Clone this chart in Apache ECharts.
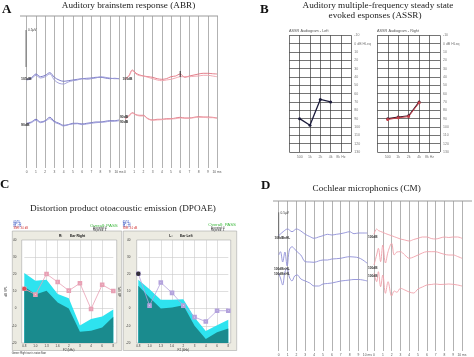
<!DOCTYPE html>
<html><head><meta charset="utf-8">
<script src="https://cdn.jsdelivr.net/npm/echarts@6/dist/echarts.min.js"></script>
<style>html,body{margin:0;padding:0;background:#fff}#c{width:474px;height:357px}</style>
</head><body><div id="c"></div>
<script>
// ---------- DATA ----------
// Panel A: ABR (time ms, amplitude in display units)
const abrTimeL = [0,0.5,1,1.5,2,2.5,3,3.5,4,4.5,5,5.5,6,6.5,7,7.5,8,8.5,9,9.5,10];
const abrL1 = [88.7,90,94,91.3,92.7,95.3,90.7,88,86.7,87.3,88,88.7,89.3,89.7,90,90.7,90.7,90,89.3,89.7,89.3];
const abrL2 = [88,89.3,92.7,90,91.3,94,88,84.7,84,86,87.3,88,89.3,88.7,89.3,90,91.3,90.7,90,89.3,89.3];
const abrL3 = [44.7,46,48.7,46,47.3,50.7,46.7,44.7,42.7,43.3,44.7,44.7,44,44.7,45.3,46,46,46.7,47.3,47.3,48];
const abrL4 = [44,45.3,47.7,45.3,46.7,49.3,45.7,44,42,43.3,44,44.3,43.3,44,44.7,45.3,45.7,46,46.7,46.7,47.3];
const abrTimeR = [0,0.4,0.8,1.2,1.6,2,2.5,3,3.5,4,4.5,5,5.5,6,6.5,7,7.5,8,8.5,9,9.5,10];
const abrR1 = [88.7,92,98,94.7,93,92,91.3,90.7,89.3,88.7,89.3,91.3,92,94,90.7,92,93,94,94.7,94.7,94.3,94];
const abrR2 = [88.7,91.3,97.3,94,92.3,92,90.7,89.3,88,87.3,88,88.7,90,91.3,91.3,91.3,91.7,92,92.7,92.7,92,91.3];
const abrR3 = [49.3,52,55.3,53.3,52.7,52.7,49.3,48,48.7,48.7,49.3,49.3,50,50.7,50,50,50.7,51.3,51,51,50.7,50];
const abrR4 = [48.7,51.3,54.7,53,52,52,49,47.7,48,48.3,48.7,49,49.3,50,49.7,49.7,50.3,50.7,50.7,50.3,50.3,49.7];

// Panel B: ASSR thresholds (dB)
const assrFreqLabels = ['', '500', '1k', '2k', '4k', '8k Hz', ''];
const assrLeft = [90, 98, 67, 70];
const assrRightDark = [90, 88, 86.5, 70];
const assrRightRed = [91, 89, 87.5, 71];

// Panel C: DPOAE (dB SPL)
const dpFreqLabels = ['0.8','1.0','1.3','1.6','2','3','4','6','8'];
const dpRightNoise2 = [20.8,16.2,16.8,8.6,6.1,-9.8,-6,-4.5,-0.5];
const dpRightNoise1 = [12.9,8.3,10.4,3.6,0.1,-13.4,-12.8,-10.9,-4.7];
const dpRightDP = [11.6,8.2,20.2,15.5,10.5,14.8,-0.2,13.9,10.3];
const dpLeftNoise2 = [16.8,11.3,5.2,5.2,5.5,-5.1,-13,-9.6,-6.4];
const dpLeftNoise1 = [13.3,6.5,0.1,0.7,2.0,-9.9,-17.7,-13.8,-11.5];
const dpLeftDP = [20.3,1.8,15.2,9.2,1.8,-4.9,-7.5,-1.2,-1.2];

// Panel D: CM (time ms, amplitude display units)
const cmTimeTop = [0,0.5,1,1.5,2,2.5,3,3.5,4,4.5,5,5.5,6,6.5,7,7.5,8,8.5,9,9.5,10];
const cmLeftTop = [115.3,119.3,122,119.3,122,120,116.7,114.5,112.7,114,115.3,116.7,116,116.7,117.3,118.3,119.3,117.3,118,118,118];
const cmTimeL = [0,0.2,0.45,0.7,0.95,1.2,1.5,1.8,2.1,2.5,3,3.5,4,4.5,5,5.5,6,6.5,7,7.5,8,8.5,9,9.5,10];
const cmLeftMid = [96,99.3,89,99,85,101,104.3,102,99,96,89.3,89,88.7,90,91,91,92,92.3,92.7,93.7,94.3,94,93.3,91,87.7];
const cmLeftLow = [77.7,73,66,79,83,74,70,75,76,72,70,68,65,65,67,67.5,68,69,70,70.5,71,71.5,71.5,71,70];
const cmTimeR = [0,0.3,0.5,0.75,1,1.3,1.6,2,2.3,2.6,3,3.5,4,4.5,5,5.5,6,6.5,7,7.5,8,8.5,9,9.5,10];
const cmRightTop = [116.7,122,120.5,119.5,118.7,117.5,116.5,115.3,114.3,113.3,112,111,110,111.5,112.7,114,114,112.5,112,113,114,113.5,114,114,112.7];
const cmRightMid = [86,96,102.7,89.3,106,88,99.3,107.7,96,99,99.3,96,92.7,94,96,98,99.3,99.3,99.3,98,96.7,96,96,94.5,92.7];
const cmRightLow = [77.7,69.3,79.3,64.3,76,57.7,69.3,55,60,58.7,62.7,61,59,58,62,64,66,66.5,67,66.5,66.7,67,66.7,66,65];

// ---------- BUILD ----------
const pair = (xs, ys) => ys.map((v, i) => [xs[i], v]);
const idx = (ys, off) => ys.map((v, i) => [i + (off || 0), v]);
const SERIF = 'Liberation Serif', SANS = 'Liberation Sans';

const grids = [
  {left:26.7, top:16, width:92.3, height:152},
  {left:125, top:16, width:92, height:152},
  {left:289.3, top:35.3, width:62, height:116.7},
  {left:377.3, top:35.3, width:62.7, height:116.7},
  {left:24.3, top:240, width:89, height:103},
  {left:138.3, top:240, width:90, height:103},
  {left:278.7, top:201, width:88.6, height:150},
  {left:374, top:201, width:88, height:150}
].map(g => Object.assign({outerBoundsMode:'none', containLabel:false}, g));

function waveX(gi){
  return {gridIndex:gi, type:'value', min:0, max:10, interval:1,
    axisLine:{show:false}, axisTick:{show:false},
    splitLine:{show:true, showMinLine:true, showMaxLine:true, lineStyle:{color:'#b2b2b2', width:1}},
    axisLabel:{fontSize:3.3, color:'#555', margin:2.5, fontFamily:SANS, showMinLabel:true, showMaxLabel:true,
      formatter: v => v === 10 ? '10 ms' : String(v)}};
}
function waveY(gi, max){ return {gridIndex:gi, type:'value', min:0, max:max, show:false, splitLine:{show:false}}; }
function assrX(gi){
  return {gridIndex:gi, type:'value', min:0, max:6, interval:1,
    axisLine:{show:false}, axisTick:{show:false},
    splitLine:{show:true, showMinLine:true, showMaxLine:true, lineStyle:{color:'#3a3a3a', width:0.7}},
    axisLabel:{fontSize:3.6, color:'#777', margin:3, fontFamily:SANS, formatter: v => assrFreqLabels[v] || ''}};
}
function assrY(gi){
  return {gridIndex:gi, type:'value', inverse:true, min:-10, max:130, interval:10, position:'right',
    axisLine:{show:false}, axisTick:{show:false},
    splitLine:{show:true, showMinLine:true, showMaxLine:true, lineStyle:{color:'#3a3a3a', width:0.7}},
    axisLabel:{fontSize:3.5, color:'#777', margin:3, fontFamily:SANS, formatter: v => v === 0 ? '0 dB HLeq' : String(v)}};
}
function dpX(gi){
  return {gridIndex:gi, type:'value', min:0, max:8, interval:1,
    axisLine:{show:false}, axisTick:{show:false},
    splitLine:{show:true, showMinLine:false, showMaxLine:false, lineStyle:{color:'#c9c9c9', width:0.6}},
    name:'F2 (kHz)', nameLocation:'middle', nameGap:6, nameTextStyle:{fontSize:3, color:'#333', fontFamily:SANS},
    axisLabel:{fontSize:3, color:'#333', margin:2, fontFamily:SANS, formatter: v => dpFreqLabels[v] || ''}};
}
function dpY(gi){
  return {gridIndex:gi, type:'value', min:-20, max:40, interval:10,
    axisLine:{show:false}, axisTick:{show:false},
    splitLine:{show:true, showMinLine:false, showMaxLine:false, lineStyle:{color:'#c9c9c9', width:0.6}},
    name:'dB SPL', nameLocation:'middle', nameRotate:90, nameGap:6, nameTextStyle:{fontSize:3, color:'#333', fontFamily:SANS},
    axisLabel:{fontSize:3, color:'#333', margin:8, fontFamily:SANS}};
}

const xAxis = [waveX(0), waveX(1), assrX(2), assrX(3), dpX(4), dpX(5), waveX(6), waveX(7)];
const yAxis = [waveY(0,152), waveY(1,152), assrY(2), assrY(3), dpY(4), dpY(5), waveY(6,150), waveY(7,150)];

function trace(gi, data, color, w){
  return {type:'line', xAxisIndex:gi, yAxisIndex:gi, data:data, showSymbol:false, symbol:'none',
    smooth:0.35, lineStyle:{color:color, width:w || 0.9}, z:3, silent:true, animation:false};
}
function area(gi, vals, color, z){
  return {type:'line', xAxisIndex:gi, yAxisIndex:gi, data:idx(vals), symbol:'none',
    lineStyle:{width:0}, areaStyle:{color:color, opacity:1, origin:'start'}, z:z, animation:false};
}
function dpLine(gi, vals, color){
  return {type:'line', xAxisIndex:gi, yAxisIndex:gi, data:idx(vals), symbol:'emptyRect', symbolSize:2.6,
    lineStyle:{color:color, width:0.8}, itemStyle:{color:color, borderWidth:0.5}, z:5, animation:false};
}
function assrLine(gi, vals, color, w){
  return {type:'line', xAxisIndex:gi, yAxisIndex:gi, data:idx(vals, 1), symbol:'circle', symbolSize:3,
    lineStyle:{color:color, width:w}, itemStyle:{color:color}, z:5, animation:false};
}

const series = [
  trace(0, pair(abrTimeL, abrL1), '#7272c4'),
  trace(0, pair(abrTimeL, abrL2), '#9898d6'),
  trace(0, pair(abrTimeL, abrL3), '#6a6ac0'),
  trace(0, pair(abrTimeL, abrL4), '#9a9ad8'),
  trace(1, pair(abrTimeR, abrR1), '#e0707e'),
  trace(1, pair(abrTimeR, abrR2), '#f0a2ab'),
  trace(1, pair(abrTimeR, abrR3), '#dc6c7a'),
  trace(1, pair(abrTimeR, abrR4), '#f2a8b0'),
  {type:'scatter', xAxisIndex:1, yAxisIndex:1, data:[[6, abrR1[13]]], symbol:'rect', symbolSize:[1,6], itemStyle:{color:'#111'}, z:6, animation:false},
  assrLine(2, assrLeft, '#1c1c3c', 1.3),
  assrLine(3, assrRightDark, '#3a1a2a', 1.2),
  assrLine(3, assrRightRed, '#c8404a', 1),
  area(4, dpRightNoise2, '#2ee3ef', 2),
  area(4, dpRightNoise1, '#1a8b8e', 3),
  dpLine(4, dpRightDP, '#e8a0b4'),
  {type:'scatter', xAxisIndex:4, yAxisIndex:4, data:[[0, dpRightDP[0]]], symbolSize:4, itemStyle:{color:'#d8383a'}, z:6, animation:false},
  area(5, dpLeftNoise2, '#2ee3ef', 2),
  area(5, dpLeftNoise1, '#1a8b8e', 3),
  dpLine(5, dpLeftDP, '#b3a2dc'),
  {type:'scatter', xAxisIndex:5, yAxisIndex:5, data:[[0, dpLeftDP[0]]], symbolSize:4.5, itemStyle:{color:'#111'}, z:6, animation:false},
  trace(6, pair(cmTimeTop, cmLeftTop), '#9090d8'),
  trace(6, pair(cmTimeL, cmLeftMid), '#9090d8'),
  trace(6, pair(cmTimeL, cmLeftLow), '#9090d8'),
  trace(7, pair(cmTimeR, cmRightTop), '#f0a0aa'),
  trace(7, pair(cmTimeR, cmRightMid), '#f0a0aa'),
  trace(7, pair(cmTimeR, cmRightLow), '#f0a0aa')
];

function txt(x, y, s, o){
  o = o || {};
  return {type:'text', x:x, y:y, z:o.z || 10, silent:true, style:{text:s, fill:o.color || '#111',
    font:(o.weight || 'normal') + ' ' + (o.size || 4) + 'px "' + (o.family || SANS) + '"',
    textAlign:o.align || 'left', textVerticalAlign:'middle'}};
}
function ln(x1, y1, x2, y2, c, w){
  return {type:'line', z:1, silent:true, shape:{x1:x1, y1:y1, x2:x2, y2:y2}, style:{stroke:c, lineWidth:w}};
}
function rect(x, y, w, h, fill, stroke, lw, z){
  return {type:'rect', z:z, silent:true, shape:{x:x, y:y, width:w, height:h}, style:{fill:fill, stroke:stroke, lineWidth:lw}};
}
const T = {family:SERIF, size:9.2, align:'center', color:'#222'};
const graphic = [
  txt(2, 10, 'A', {family:SERIF, size:13, weight:'bold'}),
  txt(260, 10, 'B', {family:SERIF, size:13, weight:'bold'}),
  txt(0, 185, 'C', {family:SERIF, size:13, weight:'bold'}),
  txt(261, 186, 'D', {family:SERIF, size:13, weight:'bold'}),
  txt(128.5, 6, 'Auditory brainstem response (ABR)', T),
  txt(378, 6, 'Auditory multiple-frequency steady state', T),
  txt(375, 15.7, 'evoked esponses (ASSR)', T),
  txt(123, 208.3, 'Distortion product otoacoustic emission (DPOAE)', T),
  txt(366.7, 189, 'Cochlear microphonics (CM)', T),
  ln(20, 16, 218, 16, '#9a9a9a', 1),
  ln(26, 30, 26, 67, '#555', 0.8),
  txt(28, 30, '0.5µV', {size:3.2, color:'#333'}),
  txt(21, 79.3, '105dB', {size:3.5, weight:'bold', color:'#333'}),
  txt(21, 125, '90dB', {size:3.5, weight:'bold', color:'#333'}),
  txt(122.5, 79, '105dB', {size:3.3, weight:'bold', color:'#333'}),
  txt(120, 117.3, '90dB', {size:3.3, weight:'bold', color:'#333'}),
  txt(120, 121.7, '90dB', {size:3.3, weight:'bold', color:'#333'}),
  txt(289, 30.5, 'ASSR Audiogram - Left', {size:3.8, color:'#555'}),
  txt(377, 30.5, 'ASSR Audiogram - Right', {size:3.8, color:'#555'}),
  rect(12.3, 231, 109.4, 119.5, '#ecebe2', '#a8a8a8', 0.6, -20),
  rect(21.7, 240, 95, 103, '#ffffff', '#9a9a9a', 0.5, -10),
  rect(123.3, 231, 113.4, 119.5, '#ecebe2', '#a8a8a8', 0.6, -20),
  rect(136.7, 240, 94, 103, '#ffffff', '#9a9a9a', 0.5, -10),
  txt(72, 236.3, 'R:        Ear Right', {size:3.4, weight:'bold', align:'center'}),
  txt(181, 236.3, 'L:        Ear Left', {size:3.4, weight:'bold', align:'center'}),
  txt(13.5, 222.7, '65/55', {size:2.6, color:'#2f4fc0'}),
  txt(13.5, 224.7, 'NF: 10', {size:2.6, color:'#2f4fc0'}),
  txt(13.5, 226.7, 'NL: 10', {size:2.6, color:'#2f4fc0'}),
  txt(13.5, 228.7, 'SNR: 3.0 dB', {size:2.6, color:'#d02a2a'}),
  txt(122.7, 222.7, '65/55', {size:2.6, color:'#2f4fc0'}),
  txt(122.7, 224.7, 'NF: 10', {size:2.6, color:'#2f4fc0'}),
  txt(122.7, 226.7, 'NL: 10', {size:2.6, color:'#2f4fc0'}),
  txt(122.7, 228.7, 'SNR: 3.0 dB', {size:2.6, color:'#d02a2a'}),
  txt(90, 225.3, 'Overall: PASS', {size:4.4, color:'#3cb83c'}),
  txt(93, 228.3, 'Accepted: 6', {size:2.6, color:'#333'}),
  txt(93, 230.3, 'Rejected: 3', {size:2.6, color:'#333'}),
  txt(208.3, 224.7, 'Overall: PASS', {size:4.4, color:'#3cb83c'}),
  txt(211, 227.8, 'Accepted: 6', {size:2.6, color:'#333'}),
  txt(211, 229.8, 'Rejected: 3', {size:2.6, color:'#333'}),
  txt(11.7, 353.3, 'Green: Right ear is noise floor', {size:2.6, color:'#333'}),
  ln(273, 201, 472, 201, '#9a9a9a', 1),
  ln(278.7, 212.3, 278.7, 238.3, '#555', 0.8),
  txt(280.5, 213.5, '0.5µV', {size:3.2, color:'#333'}),
  txt(274.5, 238.3, '100dBnHL', {size:3.2, weight:'bold', color:'#333'}),
  txt(274, 269, '100dBnHL', {size:3.2, weight:'bold', color:'#333'}),
  txt(274, 274, '100dBnHL', {size:3.2, weight:'bold', color:'#333'}),
  txt(368, 236.7, '100dB', {size:3.2, weight:'bold', color:'#333'}),
  txt(368, 268.3, '100dB', {size:3.2, weight:'bold', color:'#333'}),
  txt(368, 276, '100dB', {size:3.2, weight:'bold', color:'#333'})
];

const chart = echarts.init(document.getElementById('c'), null, {renderer:'canvas', width:474, height:357});
chart.setOption({
  animation:false,
  backgroundColor:'#ffffff',
  grid:grids, xAxis:xAxis, yAxis:yAxis, series:series, graphic:{elements:graphic}
});
</script></body></html>
